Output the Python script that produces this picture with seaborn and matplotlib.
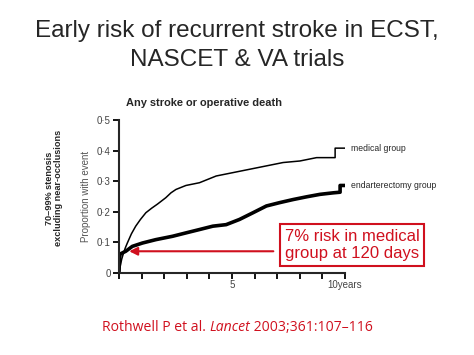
import pandas as pd
import seaborn as sns
import matplotlib.pyplot as plt

# data (years, cumulative proportion)
med_years = [0, 0.05, 0.12, 0.2, 0.28, 0.37, 0.55, 0.74, 0.95, 1.19, 1.45, 1.7, 2.07, 2.3,
             2.52, 2.96, 3.56, 4.3, 5.04, 5.78, 6.52, 7.26, 8.0, 8.74, 9.56, 9.56, 10.0]
med_risk = [0, 0.02, 0.045, 0.065, 0.082, 0.098, 0.128, 0.153, 0.175, 0.197, 0.212, 0.225,
            0.246, 0.262, 0.273, 0.286, 0.295, 0.317, 0.328, 0.339, 0.35, 0.361, 0.366,
            0.377, 0.377, 0.408, 0.408]
surg_years = [0, 0.02, 0.05, 0.3, 0.59, 1.04, 1.63, 2.37, 2.96, 3.56, 4.15, 4.74, 5.33,
              5.93, 6.52, 7.11, 7.7, 8.3, 8.89, 9.48, 9.78, 9.78, 10.0]
surg_risk = [0, 0.045, 0.062, 0.071, 0.087, 0.098, 0.109, 0.12, 0.131, 0.142, 0.153, 0.158,
             0.175, 0.197, 0.219, 0.23, 0.24, 0.249, 0.257, 0.262, 0.264, 0.286, 0.286]

y_ticks = [0, 0.1, 0.2, 0.3, 0.4, 0.5]
y_labels = ['0', '0·1', '0·2', '0·3', '0·4', '0·5']
x_ticks = list(range(11))
x_labels = ['', '', '', '', '', '5', '', '', '', '', '10years']

RED = '#d0101e'

sns.set_style('ticks')
plt.rcParams['font.family'] = ['Liberation Sans', 'DejaVu Sans']

fig = plt.figure(figsize=(4.74, 3.55), dpi=100)
ax = fig.add_axes([0.251, 0.231, 0.477, 0.431])

med = pd.DataFrame({'years': med_years, 'risk': med_risk})
surg = pd.DataFrame({'years': surg_years, 'risk': surg_risk})
sns.lineplot(data=med, x='years', y='risk', ax=ax, color='black', lw=1.1,
             estimator=None, sort=False)
sns.lineplot(data=surg, x='years', y='risk', ax=ax, color='black', lw=2.6,
             estimator=None, sort=False)

ax.set_xlim(0, 10)
ax.set_ylim(0, 0.5)
ax.set_yticks(y_ticks)
ax.set_yticklabels(y_labels)
ax.set_xticks(x_ticks)
ax.set_xticklabels(x_labels)
ax.tick_params(axis='both', direction='out', length=4, width=1.3, colors='black',
               labelsize=7, labelcolor='#444444', pad=2)
ax.tick_params(axis='x', pad=1)
for s in ['top', 'right']:
    ax.spines[s].set_visible(False)
for s in ['left', 'bottom']:
    ax.spines[s].set_linewidth(1.5)
ax.set_xlabel('')
ax.set_ylabel('Proportion with event', fontsize=7, color='#555555', labelpad=4)

# labels on the right of curves
ax.text(10.25, 0.408, 'medical group', fontsize=6.2, va='center', clip_on=False)
ax.text(10.25, 0.286, 'endarterectomy group', fontsize=6.2, va='center', clip_on=False)

# red callout
ax.annotate('', xy=(0.33, 0.071), xytext=(6.95, 0.071),
            arrowprops=dict(arrowstyle='-|>', color=RED, lw=1.5, mutation_scale=12))
fig.text(0.7425, 0.31, '7% risk in medical\ngroup at 120 days', color=RED, fontsize=12,
         ha='center', va='center', linespacing=1.1,
         bbox=dict(boxstyle='square,pad=0.3', fc='white', ec=RED, lw=1.5))

fig.text(0.5, 0.872, 'Early risk of recurrent stroke in ECST,\nNASCET & VA trials',
         fontsize=17.5, ha='center', va='center', linespacing=1.4)
fig.text(0.266, 0.71, 'Any stroke or operative death', fontsize=7.9,
         fontweight='bold', ha='left', va='center')
fig.text(0.113, 0.47, '70–99% stenosis\nexcluding near-occlusions', fontsize=6.6,
         fontweight='bold', rotation=90, ha='center', va='center', linespacing=1.0)

# citation with italic journal name
cite_font = ['Open Sans', 'DejaVu Sans']
renderer = fig.canvas.get_renderer()
t1 = fig.text(0.215, 0.078, 'Rothwell P et al. ', color=RED, fontsize=10.1,
              family=cite_font, va='center')
bb = t1.get_window_extent(renderer).transformed(fig.transFigure.inverted())
t2 = fig.text(bb.x1, 0.078, 'Lancet', color=RED, fontsize=10.1, style='italic',
              family=cite_font, va='center')
bb = t2.get_window_extent(renderer).transformed(fig.transFigure.inverted())
fig.text(bb.x1, 0.078, ' 2003;361:107–116', color=RED, fontsize=10.1,
         family=cite_font, va='center')

fig.savefig('out.png', dpi=100)
